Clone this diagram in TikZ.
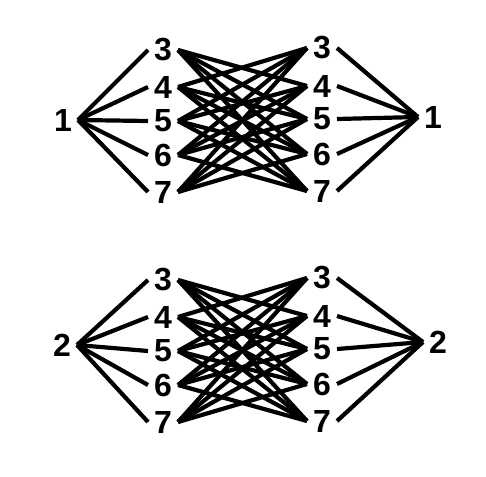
\documentclass[tikz,border=0pt]{standalone}
\usepackage{fontspec}
\setmainfont{Liberation Sans}
\usetikzlibrary{positioning}
\begin{document}
\begin{tikzpicture}[x=1pt,y=-1pt,-,line width=4.2pt,auto]
	\tikzstyle{vert}=[font=\fontsize{32}{32}\selectfont\bfseries, inner sep=4pt]
	\useasboundingbox (0,0) rectangle (486,476);
	% top graph
	\node[vert] (1a) at (63,120) {1};
	\node[vert] (a3) at (163,50) {3};
	\node[vert] (a4) at (163,87) {4};
	\node[vert] (a5) at (163,121) {5};
	\node[vert] (a6) at (163,155) {6};
	\node[vert] (a7) at (163,192) {7};
	\node[vert] (b3) at (322,48) {3};
	\node[vert] (b4) at (322,86) {4};
	\node[vert] (b5) at (322,119) {5};
	\node[vert] (b6) at (322,154) {6};
	\node[vert] (b7) at (322,191) {7};
	\node[vert] (1b) at (433,117) {1};
	% bottom graph
	\node[vert] (2c) at (62,345) {2};
	\node[vert] (c3) at (163,280) {3};
	\node[vert] (c4) at (163,317) {4};
	\node[vert] (c5) at (163,351) {5};
	\node[vert] (c6) at (163,385) {6};
	\node[vert] (c7) at (163,422) {7};
	\node[vert] (d3) at (322,278) {3};
	\node[vert] (d4) at (322,316) {4};
	\node[vert] (d5) at (322,349) {5};
	\node[vert] (d6) at (322,384) {6};
	\node[vert] (d7) at (322,421) {7};
	\node[vert] (2d) at (438,342) {2};
	\path
		(1a.east) edge (a3.west)
		(1a.east) edge (a4.west)
		(1a.east) edge (a5.west)
		(1a.east) edge (a6.west)
		(1a.east) edge (a7.west)
		(a3.east) edge (b4.west)
		(a3.east) edge (b5.west)
		(a3.east) edge (b6.west)
		(a3.east) edge (b7.west)
		(a4.east) edge (b3.west)
		(a4.east) edge (b5.west)
		(a4.east) edge (b6.west)
		(a4.east) edge (b7.west)
		(a5.east) edge (b3.west)
		(a5.east) edge (b4.west)
		(a5.east) edge (b6.west)
		(a5.east) edge (b7.west)
		(a6.east) edge (b3.west)
		(a6.east) edge (b4.west)
		(a6.east) edge (b5.west)
		(a6.east) edge (b7.west)
		(a7.east) edge (b3.west)
		(a7.east) edge (b4.west)
		(a7.east) edge (b5.west)
		(a7.east) edge (b6.west)
		(b3.east) edge (1b.west)
		(b4.east) edge (1b.west)
		(b5.east) edge (1b.west)
		(b6.east) edge (1b.west)
		(b7.east) edge (1b.west);
	\path
		(2c.east) edge (c3.west)
		(2c.east) edge (c4.west)
		(2c.east) edge (c5.west)
		(2c.east) edge (c6.west)
		(2c.east) edge (c7.west)
		(c3.east) edge (d4.west)
		(c3.east) edge (d5.west)
		(c3.east) edge (d6.west)
		(c3.east) edge (d7.west)
		(c4.east) edge (d3.west)
		(c4.east) edge (d5.west)
		(c4.east) edge (d6.west)
		(c4.east) edge (d7.west)
		(c5.east) edge (d3.west)
		(c5.east) edge (d4.west)
		(c5.east) edge (d6.west)
		(c5.east) edge (d7.west)
		(c6.east) edge (d3.west)
		(c6.east) edge (d4.west)
		(c6.east) edge (d5.west)
		(c6.east) edge (d7.west)
		(c7.east) edge (d3.west)
		(c7.east) edge (d4.west)
		(c7.east) edge (d5.west)
		(c7.east) edge (d6.west)
		(d3.east) edge (2d.west)
		(d4.east) edge (2d.west)
		(d5.east) edge (2d.west)
		(d6.east) edge (2d.west)
		(d7.east) edge (2d.west);
\end{tikzpicture}
\end{document}
